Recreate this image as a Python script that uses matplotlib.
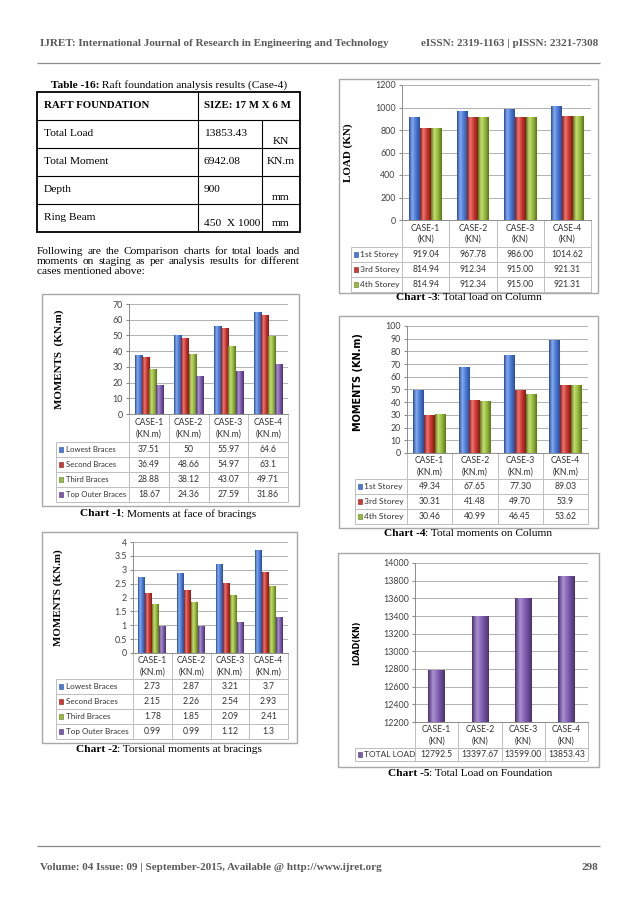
"""
Page 298 of an IJRET paper: raft table + five Excel-style bar charts with data tables.
Everything is laid out in page pixels (638 x 902) on one background axes;
each chart gets its own axes placed on top of it.
"""
import numpy as np
import matplotlib
matplotlib.use('Agg')
import matplotlib.pyplot as plt
from matplotlib.colors import LinearSegmentedColormap
from matplotlib.patches import Rectangle

W, H = 638, 902
SERIF = 'Liberation Serif'
SANS = 'Lato'

CASES = ['CASE-1', 'CASE-2', 'CASE-3', 'CASE-4']

# Chart 1: moments at face of bracings (KN.m)
BRACES = ['Lowest Braces', 'Second Braces', 'Third Braces', 'Top Outer Braces']
FACE_LOWEST = ['37.51', '50', '55.97', '64.6']
FACE_SECOND = ['36.49', '48.66', '54.97', '63.1']
FACE_THIRD = ['28.88', '38.12', '43.07', '49.71']
FACE_TOP = ['18.67', '24.36', '27.59', '31.86']

# Chart 2: torsional moments at bracings (KN.m)
TORS_LOWEST = ['2.73', '2.87', '3.21', '3.7']
TORS_SECOND = ['2.15', '2.26', '2.54', '2.93']
TORS_THIRD = ['1.78', '1.85', '2.09', '2.41']
TORS_TOP = ['0.99', '0.99', '1.12', '1.3']

# Chart 3: total load on column (KN)
STOREYS = ['1st Storey', '3rd Storey', '4th Storey']
LOAD_1ST = ['919.04', '967.78', '986.00', '1014.62']
LOAD_3RD = ['814.94', '912.34', '915.00', '921.31']
LOAD_4TH = ['814.94', '912.34', '915.00', '921.31']

# Chart 4: total moments on column (KN.m)
MOM_1ST = ['49.34', '67.65', '77.30', '89.03']
MOM_3RD = ['30.31', '41.48', '49.70', '53.9']
MOM_4TH = ['30.46', '40.99', '46.45', '53.62']

# Chart 5: total load on foundation (KN)
TOTAL_LOAD = ['12792.5', '13397.67', '13599.00', '13853.43']

# Table 16
RAFT_ROWS = ['Total Load', 'Total Moment', 'Depth', 'Ring Beam']
RAFT_VALUES = ['13853.43', '6942.08', '900', '450  X 1000']
RAFT_UNITS = ['KN', 'KN.m', 'mm', 'mm']

# dark, light, mid for the cylinder-ish Excel shading
SHADES = {
    'blue':   ('#2A4D9E', '#86ABEE', '#4A7BD6'),
    'red':    ('#861A16', '#EC7771', '#CC3832'),
    'green':  ('#5B771C', '#C3DE74', '#98BC3C'),
    'purple': ('#4B3272', '#AB91D2', '#7D5CAE'),
}
GRID = '#A6A6A6'
TLINE = '#BDBDBD'
INK = '#333333'
HEAD = '#5A5A5A'

fig = plt.figure(figsize=(W / 100, H / 100), dpi=100)
bg = fig.add_axes([0, 0, 1, 1])
bg.set_xlim(0, W); bg.set_ylim(H, 0); bg.axis('off')
renderer = fig.canvas.get_renderer()


def hline(x0, x1, y, color, lw):
    bg.plot([x0, x1], [y, y], color=color, lw=lw, solid_capstyle='butt')


def vline(x, y0, y1, color, lw):
    bg.plot([x, x], [y0, y1], color=color, lw=lw, solid_capstyle='butt')


def width_of(t):
    return t.get_window_extent(renderer).width


def mixed(x, y, parts, ha='left', size=8, color='black'):
    """Run of (text, weight) pieces on one line."""
    texts = [bg.text(0, y, s, fontsize=size, fontweight=wt, family=SERIF,
                     color=color, va='center') for s, wt in parts]
    ws = [width_of(t) for t in texts]
    x0 = x - sum(ws) / 2 if ha == 'center' else x
    for t, w in zip(texts, ws):
        t.set_x(x0); x0 += w


def justified(x0, x1, y, line, size=8.2):
    words = line.split()
    texts = [bg.text(0, y, w, fontsize=size, family=SERIF, va='center') for w in words]
    ws = [width_of(t) for t in texts]
    gap = (x1 - x0 - sum(ws)) / (len(words) - 1)
    x = x0
    for t, w in zip(texts, ws):
        t.set_x(x); x += w + gap


def shade(ax, bars, name, ylo):
    dark, light, mid = SHADES[name]
    cmap = LinearSegmentedColormap.from_list(
        name, [(0, dark), (0.3, light), (0.62, mid), (1, dark)])
    grad = np.linspace(0, 1, 64).reshape(1, -1)
    for p in bars:
        x0, w = p.get_x(), p.get_width()
        y0 = max(p.get_y(), ylo)
        y1 = p.get_y() + p.get_height()
        im = ax.imshow(grad, extent=[x0, x0 + w, y0, y1], aspect='auto',
                       cmap=cmap, zorder=3, interpolation='bilinear')
        im.set_clip_path(p)


def chart(box, plot, ylim, step, names, values, colors, bar_w, unit,
          hdr_b, row_b, tab_l, ylabel, ylab, caption, cap, label_size=5.8):
    bx0, by0, bx1, by1 = box
    bg.add_patch(Rectangle((bx0, by0), bx1 - bx0, by1 - by0,
                           fill=False, ec='#A8A8A8', lw=1.0))
    l, t, r, b = plot
    ax = fig.add_axes([l / W, 1 - b / H, (r - l) / W, (b - t) / H])
    x = np.arange(len(CASES))
    n = len(names)
    for k, (vals, c) in enumerate(zip(values, colors)):
        nums = [float(v) for v in vals]
        bars = ax.bar(x + (k - (n - 1) / 2) * bar_w, nums, bar_w,
                      color=SHADES[c][2], lw=0, zorder=2)
        shade(ax, bars, c, ylim[0])
    ticks = np.arange(ylim[0], ylim[1] + step / 2, step)
    ax.set_xlim(-0.5, len(CASES) - 0.5)
    ax.set_ylim(*ylim)
    ax.set_yticks(ticks)
    ax.set_yticklabels([f'{v:g}' for v in ticks], family=SANS)
    ax.set_xticks([])
    ax.grid(axis='y', color=GRID, lw=0.6)
    ax.set_axisbelow(True)
    for s in ('top', 'right'):
        ax.spines[s].set_visible(False)
    for s in ('left', 'bottom'):
        ax.spines[s].set_color('#8C8C8C'); ax.spines[s].set_linewidth(0.7)
    ax.tick_params(axis='y', length=2.5, color='#8C8C8C', labelsize=6.4,
                   labelcolor='#404040', pad=2)
    ax.patch.set_alpha(0)

    # y label
    fam, size, lx, ly = ylab
    bg.text(lx, ly if ly else (t + b) / 2, ylabel, rotation=90, ha='center',
            va='center', family=fam, fontweight='bold', fontsize=size, color='black')

    # data table under the plot
    cols = np.linspace(l, r, len(CASES) + 1)
    last = row_b[-1]
    for cx in cols:
        vline(cx, b, last, TLINE, 0.7)
    vline(tab_l, hdr_b, last, TLINE, 0.7)
    hline(tab_l, r, hdr_b, TLINE, 0.7)
    for yb in row_b:
        hline(tab_l, r, yb, TLINE, 0.7)
    hh = hdr_b - b
    for i, case in enumerate(CASES):
        cx = (cols[i] + cols[i + 1]) / 2
        bg.text(cx, b + 0.3 * hh, case, ha='center', va='center',
                family=SANS, fontsize=6.2, color=INK)
        bg.text(cx, b + 0.72 * hh, f'({unit})', ha='center', va='center',
                family=SANS, fontsize=6.2, color=INK)
    tops = [hdr_b] + list(row_b[:-1])
    for name, vals, c, y0, y1 in zip(names, values, colors, tops, row_b):
        ym = (y0 + y1) / 2
        bg.add_patch(Rectangle((tab_l + 3, ym - 2.2), 4.4, 4.4,
                               fc=SHADES[c][2], ec=SHADES[c][0], lw=0.4))
        bg.text(tab_l + 9.5, ym, name, ha='left', va='center',
                family=SANS, fontsize=label_size, color=INK)
        for i, v in enumerate(vals):
            bg.text((cols[i] + cols[i + 1]) / 2, ym, v, ha='center', va='center',
                    family=SANS, fontsize=6.2, color=INK)

    mixed(cap[0], cap[1], caption, ha='center', size=8.2)


# ---- page furniture -------------------------------------------------------
bg.text(40, 44, 'IJRET: International Journal of Research in Engineering and Technology',
        family=SERIF, fontweight='bold', fontsize=8.0, color=HEAD, va='center')
bg.text(598, 44, 'eISSN: 2319-1163 | pISSN: 2321-7308', family=SERIF,
        fontweight='bold', fontsize=8.0, color=HEAD, va='center', ha='right')
hline(37, 600, 63, '#8A8A8A', 0.9)
hline(37, 600, 846, '#8A8A8A', 0.9)
bg.text(40, 867, 'Volume: 04 Issue: 09 | September-2015, Available @ http://www.ijret.org',
        family=SERIF, fontweight='bold', fontsize=8.0, color=HEAD, va='center')
bg.text(598, 867, '298', family=SERIF, fontweight='bold', fontsize=8.0,
        color=HEAD, va='center', ha='right')

# ---- table 16 -------------------------------------------------------------
mixed(169, 85, [('Table -16:', 'bold'),
                (' Raft foundation analysis results (Case-4)', 'normal')],
      ha='center', size=8.2)
tl, tr, tt, tb = 37, 300, 92, 232
row_edges = [92, 120, 148, 176, 204, 232]
bg.add_patch(Rectangle((tl, tt), tr - tl, tb - tt, fill=False, ec='black', lw=1.3))
for y in row_edges[1:-1]:
    hline(tl, tr, y, 'black', 0.8)
vline(198, tt, tb, 'black', 0.8)
vline(262, 120, tb, 'black', 0.8)
bg.text(44, 106, 'RAFT FOUNDATION', family=SERIF, fontweight='bold', fontsize=7.8,
        va='center')
bg.text(204, 106, 'SIZE: 17 M X 6 M', family=SERIF, fontweight='bold', fontsize=7.8,
        va='center')
value_dy = [-1, -1, -1, 6]
unit_dy = [7, 0, 7, 6]
for k, (lab, val, unit) in enumerate(zip(RAFT_ROWS, RAFT_VALUES, RAFT_UNITS)):
    ym = (row_edges[k + 1] + row_edges[k + 2]) / 2
    bg.text(44, ym - 1, lab, family=SERIF, fontsize=8.2, va='center')
    bg.text(204, ym + value_dy[k], val, family=SERIF, fontsize=8.2, va='center')
    bg.text(281, ym + unit_dy[k], unit, family=SERIF, fontsize=8.2,
            va='center', ha='center')

para = ['Following are the Comparison charts for total loads and',
        'moments on staging as per analysis results for different']
justified(37, 300, 251, para[0])
justified(37, 300, 261.5, para[1])
bg.text(37, 272, 'cases mentioned above:', family=SERIF, fontsize=8.2, va='center')

# ---- charts ---------------------------------------------------------------
BRACE_COLORS = ['blue', 'red', 'green', 'purple']
STOREY_COLORS = ['blue', 'red', 'green']

chart(box=(42, 294, 299, 506), plot=(129, 304, 288, 414), ylim=(0, 70), step=10,
      names=BRACES, values=[FACE_LOWEST, FACE_SECOND, FACE_THIRD, FACE_TOP],
      colors=BRACE_COLORS, bar_w=0.18, unit='KN.m',
      hdr_b=442, row_b=[457, 472, 487, 502], tab_l=56,
      ylabel='MOMENTS  (KN.m)', ylab=(SERIF, 7.9, 59, None),
      caption=[('Chart -1', 'bold'), (': Moments at face of bracings', 'normal')],
      cap=(168, 514), label_size=5.6)

chart(box=(42, 532, 297, 743), plot=(133, 542, 288, 653), ylim=(0, 4), step=0.5,
      names=BRACES, values=[TORS_LOWEST, TORS_SECOND, TORS_THIRD, TORS_TOP],
      colors=BRACE_COLORS, bar_w=0.18, unit='KN.m',
      hdr_b=679, row_b=[694, 709, 724, 739], tab_l=56,
      ylabel='MOMENTS (KN.m)', ylab=(SERIF, 7.9, 58, None),
      caption=[('Chart -2', 'bold'), (': Torsional moments at bracings', 'normal')],
      cap=(169, 750), label_size=5.8)

chart(box=(339, 79, 598, 293), plot=(402, 85, 591, 220), ylim=(0, 1200), step=200,
      names=STOREYS, values=[LOAD_1ST, LOAD_3RD, LOAD_4TH],
      colors=STOREY_COLORS, bar_w=0.23, unit='KN',
      hdr_b=247, row_b=[262, 277, 292], tab_l=351,
      ylabel='LOAD (KN)', ylab=(SERIF, 7.9, 348, None),
      caption=[('Chart -3', 'bold'), (': Total load on Column', 'normal')],
      cap=(469, 298), label_size=6.1)

chart(box=(339, 316, 598, 528), plot=(407, 326, 588, 453), ylim=(0, 100), step=10,
      names=STOREYS, values=[MOM_1ST, MOM_3RD, MOM_4TH],
      colors=STOREY_COLORS, bar_w=0.24, unit='KN.m',
      hdr_b=479, row_b=[494, 509, 524], tab_l=355,
      ylabel='MOMENTS (KN.m)', ylab=('DejaVu Sans', 7.0, 358, 382),
      caption=[('Chart -4', 'bold'), (': Total moments on Column', 'normal')],
      cap=(468, 534), label_size=6.1)

chart(box=(338, 553, 599, 767), plot=(415, 563, 588, 722), ylim=(12200, 14000), step=200,
      names=['TOTAL LOAD'], values=[TOTAL_LOAD],
      colors=['purple'], bar_w=0.38, unit='KN',
      hdr_b=748, row_b=[761], tab_l=355,
      ylabel='LOAD(KN)', ylab=('DejaVu Sans', 5.8, 357, None),
      caption=[('Chart -5', 'bold'), (': Total Load on Foundation', 'normal')],
      cap=(470, 773), label_size=6.0)

fig.savefig('out.png', dpi=100, facecolor='white')
